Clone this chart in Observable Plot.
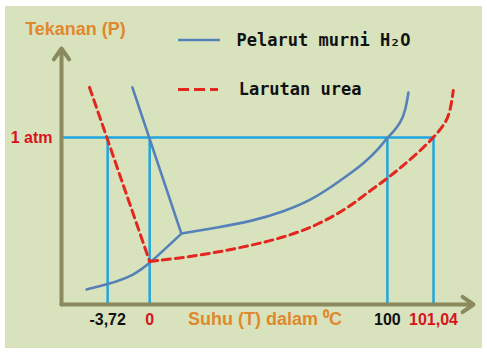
<!DOCTYPE html>
<html>
<head>
<meta charset="utf-8">
<script src="https://cdn.jsdelivr.net/npm/d3@7"></script>
<script src="https://cdn.jsdelivr.net/npm/@observablehq/plot@0.6"></script>
<style>
  html, body { margin: 0; padding: 0; background: #ffffff; }
  #wrap { position: relative; width: 487px; height: 356px; overflow: hidden; }
  #bg { position: absolute; left: 5px; top: 6px; width: 477px; height: 342px; background: #d8e3bd; }
  #chart { position: absolute; left: 0; top: 0; }
</style>
</head>
<body>
<div id="wrap"><div id="bg"></div><div id="chart"></div></div>
<script>
// Schematic diagram units (x: 0–100 along temperature axis, y: 0–100 along pressure axis)
const tickLabels = ["-3,72", "0", "100", "101,04"];
const tickPos = [11.2, 21.4, 79.1, 90.3];     // schematic positions of the marked temperatures
const tickIsRed = [false, true, false, true];
const atm = 65.2;                               // 1 atm level

// Pure water (Pelarut murni H2O)
const waterMeltX = [17.2, 29.1];
const waterMeltY = [84.8, 27.7];
const waterVapX = [29.1, 37.9, 45.9, 53.9, 60.4, 66.0, 70.1, 73.3, 76.7, 79.1, 80.6, 82.3, 83.5, 84.2];
const waterVapY = [27.7, 30.1, 32.4, 36.3, 40.6, 46.5, 51.2, 55.1, 60.2, 65.2, 67.6, 71.0, 75.8, 82.8];
const waterSubX = [6.1, 11.2, 17.5, 21.4, 29.1];
const waterSubY = [5.9, 7.8, 11.3, 16.0, 27.7];

// Urea solution (Larutan urea)
const ureaFreezeX = [6.8, 21.4];
const ureaFreezeY = [84.8, 16.8];
const ureaVapX = [21.4, 33.7, 45.9, 53.9, 62.1, 70.1, 74.3, 79.1, 82.3, 86.4, 90.3, 93.2, 94.4, 95.1];
const ureaVapY = [16.8, 19.1, 23.0, 26.2, 30.9, 38.3, 43.8, 49.2, 53.5, 59.0, 65.2, 70.7, 75.8, 83.6];

const legendNames = ["Pelarut murni H₂O", "Larutan urea"];

const pts = (xs, ys) => xs.map((x, i) => ({x, y: ys[i]}));

const BLUE = "#5580b8", RED = "#e3271e", CYAN = "#1fa6e0", AXIS = "#8b8a5e", ORANGE = "#e0882c";

const ticks = tickLabels.map((label, i) => ({label, x: tickPos[i], red: tickIsRed[i]}));

const chart = Plot.plot({
  width: 487,
  height: 356,
  marginLeft: 61,
  marginRight: 14,
  marginTop: 48,
  marginBottom: 52,
  x: {domain: [0, 100], axis: null},
  y: {domain: [0, 100], axis: null},
  style: {background: "transparent", fontFamily: "Liberation Sans, Arial, sans-serif", overflow: "visible"},
  marks: [
    // guide lines
    Plot.ruleY([atm], {x1: 0, x2: tickPos[3], stroke: CYAN, strokeWidth: 2.5}),
    Plot.ruleX(tickPos, {x: d => d, y1: 0, y2: atm, stroke: CYAN, strokeWidth: 2.5}),
    // pure water
    Plot.line(pts(waterMeltX, waterMeltY), {x: "x", y: "y", stroke: BLUE, strokeWidth: 2.6}),
    Plot.line(pts(waterSubX, waterSubY), {x: "x", y: "y", stroke: BLUE, strokeWidth: 2.6, curve: "basis"}),
    Plot.line(pts(waterVapX, waterVapY), {x: "x", y: "y", stroke: BLUE, strokeWidth: 2.6, curve: "basis"}),
    // urea solution
    Plot.line(pts(ureaFreezeX, ureaFreezeY), {x: "x", y: "y", stroke: RED, strokeWidth: 3, strokeDasharray: "8,5"}),
    Plot.line(pts(ureaVapX, ureaVapY), {x: "x", y: "y", stroke: RED, strokeWidth: 3, strokeDasharray: "8,5", curve: "basis"}),
    // axes with arrows
    Plot.arrow([{x1: 0, y1: 0, x2: 100, y2: 0}, {x1: 0, y1: 0, x2: 0, y2: 100}],
      {x1: "x1", y1: "y1", x2: "x2", y2: "y2", stroke: AXIS, strokeWidth: 4, headLength: 5, headAngle: 70}),
    // tick labels
    Plot.text(ticks, {x: "x", text: "label", frameAnchor: "bottom", dy: 20,
      fill: d => d.red ? "#d6141e" : "#111111", fontSize: 16, fontWeight: "bold"}),
    // axis titles
    Plot.text(["Suhu (T) dalam ⁰C"], {x: 49.4, text: d => d, frameAnchor: "bottom", dy: 20,
      fill: ORANGE, fontSize: 18, fontWeight: "bold"}),
    Plot.text(["Tekanan (P)"], {x: 3.4, y: 107.4, text: d => d, fill: ORANGE, fontSize: 18, fontWeight: "bold"}),
    Plot.text(["1 atm"], {x: 0, y: atm, text: d => d, textAnchor: "end", dx: -9,
      fill: "#d6141e", fontSize: 16, fontWeight: "bold"}),
    // legend
    Plot.ruleY([103.3], {x1: 28.4, x2: 38.6, stroke: BLUE, strokeWidth: 2.6}),
    Plot.ruleY([84.0], {x1: 28.4, x2: 38.1, stroke: RED, strokeWidth: 3, strokeDasharray: "11,5"}),
    Plot.text([legendNames[0]], {x: 42.5, y: 103.3, text: d => d, textAnchor: "start",
      fontFamily: "DejaVu Sans Mono, monospace", fontWeight: "bold", fontSize: 17, fill: "#111111"}),
    Plot.text([legendNames[1]], {x: 43.0, y: 84.0, text: d => d, textAnchor: "start",
      fontFamily: "DejaVu Sans Mono, monospace", fontWeight: "bold", fontSize: 17, fill: "#111111"})
  ]
});
document.getElementById("chart").appendChild(chart);
</script>
</body>
</html>
